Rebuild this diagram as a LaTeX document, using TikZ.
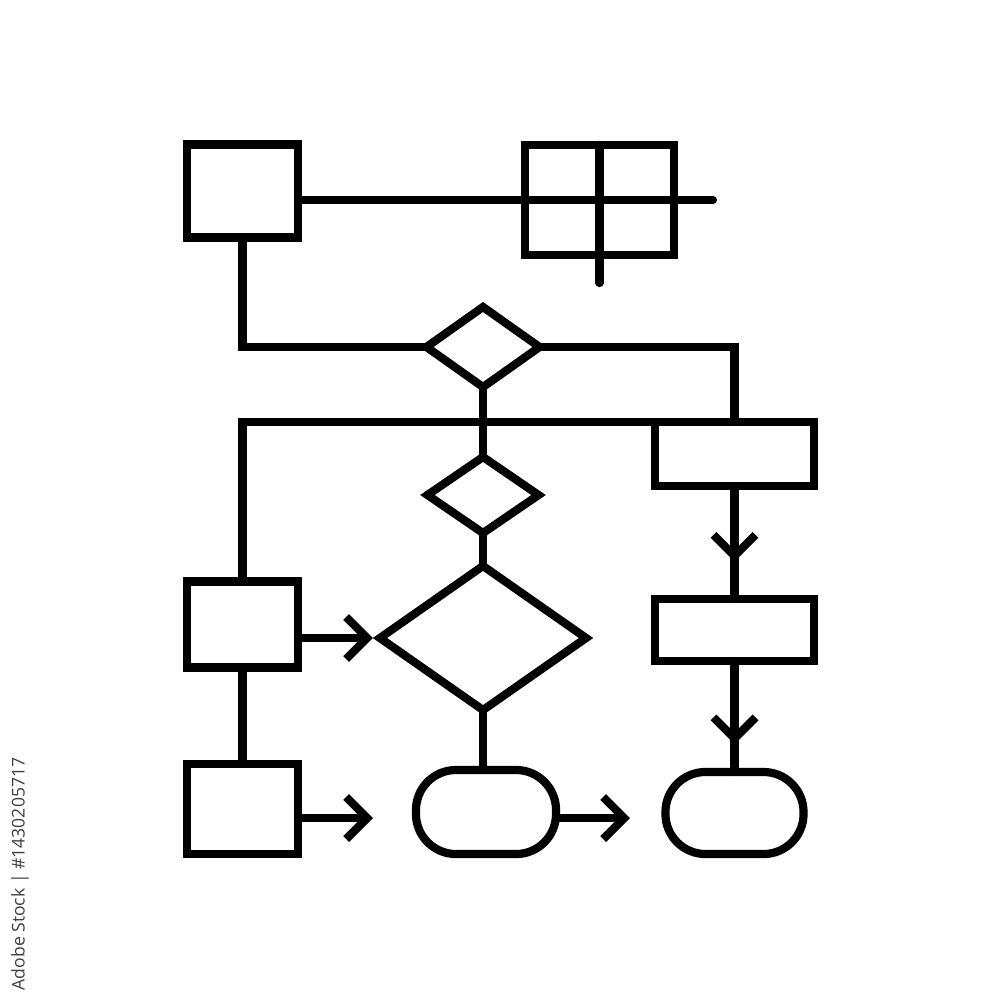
\documentclass[tikz,border=0pt]{standalone}
\usepackage{fontspec}
\newfontfamily\wmfont{Open Sans}
\usetikzlibrary{shapes.geometric, arrows.meta, decorations.markings}
\begin{document}
\begin{tikzpicture}[x=0.01cm, y=-0.01cm,
  lw/.style={line width=0.082cm},
  shp/.style={draw, lw, inner sep=0pt, outer sep=0pt},
  oval/.style={shp, rectangle, rounded corners=0.40cm},
  conn/.style={lw, line cap=round},
  barb/.tip={Straight Barb[length=0.21cm, width=0.42cm]},
  arr/.style={conn, -barb},
  midarr/.style={conn, decoration={markings, mark=at position #1 with {\arrow{barb}}}, postaction={decorate}}
]
\fill[white] (0,0) rectangle (1000,1000);
\useasboundingbox (0,0) rectangle (1000,1000);

% nodes
\node[shp, minimum width=1.11cm, minimum height=0.93cm] (A) at (242.5,191) {};
\node[shp, minimum width=1.49cm, minimum height=1.10cm] (B) at (599.5,200) {};
\coordinate (Bend) at (713,200);
\coordinate (Bdiv) at (599.5,283);
\node[shp, diamond, minimum width=1.13cm, minimum height=0.80cm] (D1) at (483,347) {};
\node[shp, diamond, minimum width=1.11cm, minimum height=0.76cm] (D2) at (483,495) {};
\node[shp, diamond, minimum width=2.06cm, minimum height=1.44cm] (D3) at (483,638) {};
\node[shp, minimum width=1.59cm, minimum height=0.64cm] (R1) at (734.5,454) {};
\node[shp, minimum width=1.59cm, minimum height=0.62cm] (R2) at (734.5,630) {};
\node[shp, minimum width=1.11cm, minimum height=0.86cm] (C) at (242.5,624.5) {};
\node[shp, minimum width=1.11cm, minimum height=0.90cm] (E) at (242.5,809) {};
\node[oval, minimum width=1.40cm, minimum height=0.84cm] (O1) at (486,812) {};
\node[oval, minimum width=1.38cm, minimum height=0.82cm] (O2) at (734.5,813) {};
\coordinate (e1) at (373,818);
\coordinate (o1) at (630,818);

% connectors
\draw[conn] (A.east |- B) -- (Bend);
\draw[conn] (B.north) -- (Bdiv);
\draw[conn] (A.south) |- (D1.west);
\draw[conn] (D1.east) -| (R1.north);
\draw[conn] (D1.south) -- (D2.north);
\draw[conn] (C.north) |- (R1.north west);
\draw[conn] (D2.south) -- (D3.north);
\draw[conn] (D3.south) -- (D3.south |- O1.north);
\draw[arr, shorten >=0.07cm] (C.east |- D3.west) -- (D3.west);
\draw[conn] (C.south) -- (E.north);
\draw[arr] (E.east |- e1) -- (e1);
\draw[arr] (O1.east |- o1) -- (o1);
\draw[midarr=0.67] (R1.south) -- (R2.north);
\draw[midarr=0.75] (R2.south) -- (O2.north);

% side label
\node[rotate=90, anchor=east, inner sep=0pt, text=black!75,
      font=\wmfont\fontsize{5}{6}\selectfont] (wm) at (20,757) {Adobe Stock | \#1430205717};
\end{tikzpicture}
\end{document}
